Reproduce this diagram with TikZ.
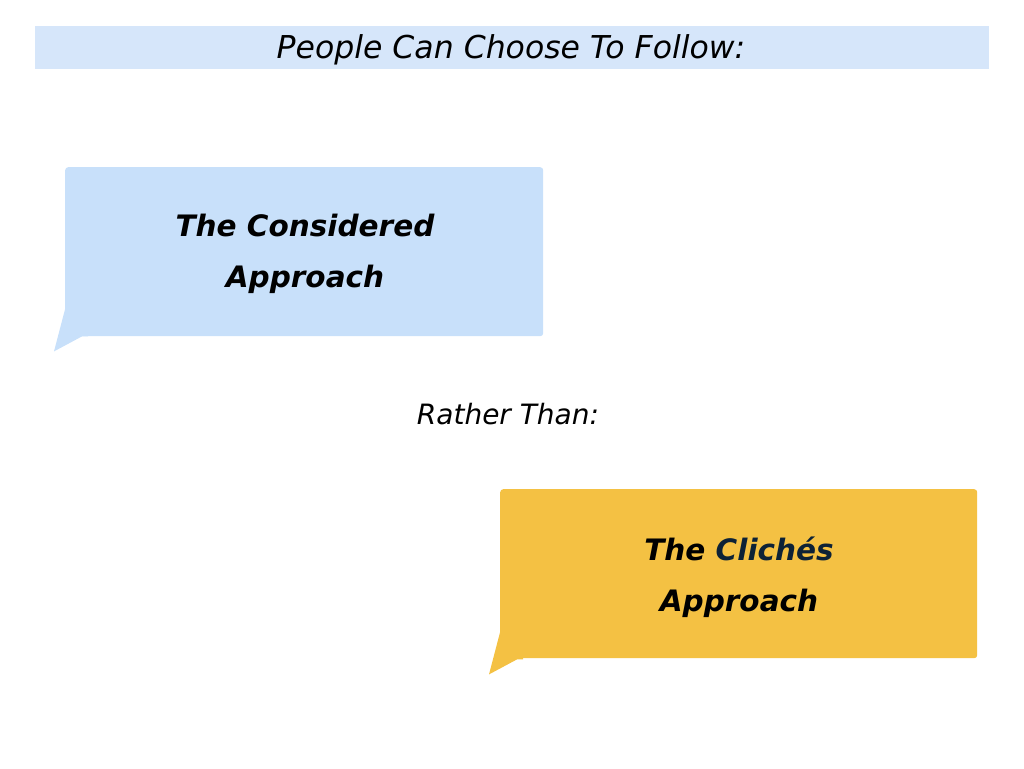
\documentclass[tikz,border=0pt]{standalone}
\usepackage{fontspec}
\setmainfont{DejaVu Sans}
\definecolor{bandblue}{HTML}{D6E6FA}
\definecolor{boxblue}{HTML}{C8E0FA}
\definecolor{boxgold}{HTML}{F4C143}
\definecolor{navy}{HTML}{0D2236}
\begin{document}
\begin{tikzpicture}[x=1pt,y=-1pt,
  callout/.style={fill=#1, rounded corners=3pt, inner sep=0pt, anchor=north west},
  boxtext/.style={font=\fontsize{29.5}{51}\selectfont\bfseries\itshape, align=center, inner sep=0pt},
  plaintext/.style={font=\fontsize{#1}{30}\selectfont\itshape, inner sep=0pt}]
\useasboundingbox (0,0) rectangle (1024,768);
% title band
\node[fill=bandblue, minimum width=954pt, minimum height=43pt, inner sep=0pt, anchor=north west] (band) at (35,26) {};
\node[plaintext=31.5] (title) at (511,50) {People Can Choose To Follow:};
% box 1
\node[callout=boxblue, minimum width=478pt, minimum height=169pt] (box1) at (65,167) {};
\fill[boxblue] (box1.south west) ++(0,-27) coordinate (t1a) -- ++(-11,42) coordinate (t1tip) -- ++(28,-15) coordinate (t1b) -- ++(6,0) -- ++(0,-27) -- cycle;
\node[boxtext] (txt1) at (305,254) {The Considered\\Approach};
% middle
\node[plaintext=28] (rather) at (508,414) {Rather Than:};
% box 2
\node[callout=boxgold, minimum width=477pt, minimum height=169pt] (box2) at (500,489) {};
\fill[boxgold] (box2.south west) ++(0,-26) coordinate (t2a) -- ++(-11,42) coordinate (t2tip) -- ++(28,-15) coordinate (t2b) -- ++(6,0) -- ++(0,-27) -- cycle;
\node[boxtext] (txt2) at (739,577) {The \textcolor{navy}{Clichés}\\Approach};
\end{tikzpicture}
\end{document}
